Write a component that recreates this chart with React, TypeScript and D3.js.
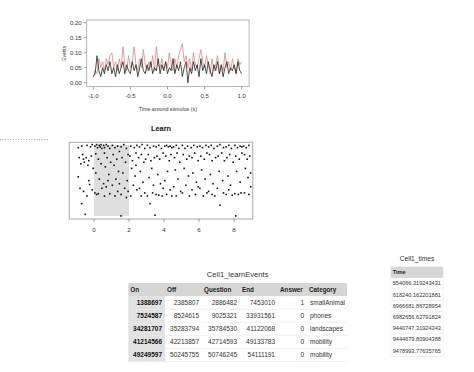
import * as d3 from "d3";

// PSTH top plot: bin centres and rates for two conditions
const binTimes = d3.range(81).map((i) => -1 + i * 0.025);
const rateBlack = [
  0.02, 0.03, 0.09, 0.04, 0.02, 0.05, 0.03, 0.06, 0.04, 0.07, 0.03, 0.05, 0.02, 0.06, 0.03, 0.05,
  0.07, 0.03, 0.06, 0.04, 0.03, 0.07, 0.04, 0.06, 0.02, 0.05, 0.08, 0.04, 0.03, 0.06, 0.04, 0.07,
  0.03, 0.05, 0.04, 0.08, 0.03, 0.06, 0.04, 0.07, 0.03, 0.05, 0.04, 0.08, 0.03, 0.06, 0.04, 0.07,
  0.02, 0.05, 0.07, 0.0, 0.05, 0.03, 0.07, 0.04, 0.06, 0.02, 0.08, 0.04, 0.06, 0.03, 0.07, 0.04,
  0.02, 0.06, 0.04, 0.07, 0.03, 0.06, 0.02, 0.05, 0.07, 0.03, 0.05, 0.04, 0.06, 0.03, 0.07, 0.04,
  0.03,
];
const rateRed = [
  0.02, 0.04, 0.03, 0.08, 0.05, 0.07, 0.04, 0.08, 0.06, 0.09, 0.1, 0.05, 0.07, 0.04, 0.08, 0.05,
  0.12, 0.06, 0.04, 0.09, 0.05, 0.07, 0.12, 0.06, 0.04, 0.08, 0.05, 0.11, 0.06, 0.04, 0.07, 0.05,
  0.09, 0.04, 0.12, 0.06, 0.05, 0.08, 0.04, 0.07, 0.05, 0.1, 0.06, 0.04, 0.08, 0.05, 0.09, 0.11,
  0.13, 0.07, 0.09, 0.05, 0.08, 0.04, 0.1, 0.06, 0.05, 0.08, 0.11, 0.07, 0.05, 0.09, 0.06, 0.03,
  0.08, 0.04, 0.06, 0.09, 0.03, 0.06, 0.04, 0.1, 0.05, 0.07, 0.04, 0.08, 0.05, 0.03, 0.08, 0.06,
  0.07,
];
const topXTicks = [-1, -0.5, 0, 0.5, 1];
const topYTicks = [0, 0.05, 0.1, 0.15, 0.2];

// raster: [time (s), trial position 0..1]
const spikes: [number, number][] = [
  [-0.9, 0.93], [-0.7, 0.95], [-0.85, 0.8], [-0.6, 0.78], [-0.75, 0.72], [-0.55, 0.74], [-0.9, 0.55],
  [-0.8, 0.4], [-0.6, 0.36], [-0.7, 0.2], [-0.5, 0.06], [-0.65, 0.84],
  [-0.4, 0.96], [-0.2, 0.94], [-0.1, 0.97], [-0.45, 0.8], [-0.3, 0.76], [-0.15, 0.82], [-0.35, 0.7],
  [-0.05, 0.66], [-0.25, 0.45], [-0.1, 0.38], [-0.4, 0.3], [-0.3, 0.5],
  [0.05, 0.95], [0.15, 0.97], [0.2, 0.93], [0.3, 0.96], [0.35, 0.94], [0.4, 0.97], [0.45, 0.92],
  [0.1, 0.85], [0.25, 0.78], [0.4, 0.72], [0.1, 0.6], [0.3, 0.52], [0.05, 0.34], [0.15, 0.32],
  [0.25, 0.33], [0.45, 0.4],
  [0.55, 0.96], [0.6, 0.93], [0.7, 0.97], [0.8, 0.95], [0.9, 0.92], [0.6, 0.86], [0.75, 0.8],
  [0.95, 0.74], [0.65, 0.68], [0.85, 0.58], [0.55, 0.46], [0.7, 0.42], [0.9, 0.33], [0.6, 0.3], [0.8, 0.5],
  [1.05, 0.96], [1.2, 0.93], [1.35, 0.95], [1.1, 0.84], [1.3, 0.78], [1.45, 0.88], [1.15, 0.7],
  [1.4, 0.62], [1.25, 0.52], [1.05, 0.44], [1.35, 0.36], [1.2, 0.3], [1.45, 0.46],
  [1.55, 0.94], [1.7, 0.97], [1.85, 0.92], [1.6, 0.8], [1.8, 0.74], [1.95, 0.84], [1.65, 0.6],
  [1.9, 0.5], [1.75, 0.4], [1.55, 0.32], [1.85, 0.28], [1.54, 0.04], [1.95, 0.36],
  [2.1, 0.95], [2.3, 0.93], [2.45, 0.96], [2.05, 0.82], [2.2, 0.76], [2.4, 0.86], [2.15, 0.66],
  [2.35, 0.56], [2.25, 0.44], [2.45, 0.38], [2.1, 0.3], [2.4, 0.7],
  [2.6, 0.94], [2.75, 0.97], [2.9, 0.92], [2.55, 0.8], [2.7, 0.84], [2.85, 0.74], [2.95, 0.78],
  [2.65, 0.62], [2.8, 0.48], [2.6, 0.4], [2.9, 0.34], [2.7, 0.3],
  [3.05, 0.96], [3.2, 0.93], [3.4, 0.95], [3.1, 0.84], [3.25, 0.76], [3.45, 0.8], [3.3, 0.66],
  [3.15, 0.54], [3.4, 0.44], [3.2, 0.2], [3.49, 0.05], [3.35, 0.34], [3.05, 0.3],
  [3.55, 0.94], [3.7, 0.96], [3.85, 0.92], [3.6, 0.82], [3.75, 0.78], [3.95, 0.86], [3.65, 0.58],
  [3.8, 0.46], [3.55, 0.32], [3.7, 0.31], [3.9, 0.3], [3.95, 0.4],
  [4.05, 0.95], [4.15, 0.96], [4.25, 0.94], [4.35, 0.95], [4.45, 0.93], [4.1, 0.82], [4.3, 0.76],
  [4.4, 0.84], [4.2, 0.62], [4.05, 0.5], [4.35, 0.38], [4.15, 0.32], [4.45, 0.3],
  [4.55, 0.94], [4.7, 0.96], [4.85, 0.92], [4.6, 0.8], [4.75, 0.86], [4.9, 0.74], [4.65, 0.64],
  [4.8, 0.52], [4.55, 0.42], [4.95, 0.36], [4.7, 0.3],
  [5.05, 0.96], [5.2, 0.92], [5.35, 0.95], [5.1, 0.84], [5.3, 0.78], [5.45, 0.82], [5.15, 0.66],
  [5.4, 0.56], [5.25, 0.44], [5.05, 0.34], [5.45, 0.3],
  [5.55, 0.93], [5.7, 0.96], [5.9, 0.94], [5.6, 0.8], [5.75, 0.86], [5.95, 0.76], [5.65, 0.6],
  [5.85, 0.48], [5.6, 0.38], [5.8, 0.32], [5.95, 0.42],
  [6.05, 0.95], [6.2, 0.93], [6.4, 0.96], [6.1, 0.82], [6.3, 0.78], [6.45, 0.86], [6.15, 0.64],
  [6.35, 0.52], [6.05, 0.4], [6.25, 0.3], [6.45, 0.34],
  [6.55, 0.94], [6.7, 0.96], [6.85, 0.92], [6.6, 0.84], [6.75, 0.76], [6.95, 0.8], [6.65, 0.58],
  [6.8, 0.46], [6.55, 0.36], [6.9, 0.3], [6.75, 0.32],
  [7.05, 0.95], [7.2, 0.97], [7.4, 0.93], [7.1, 0.82], [7.3, 0.86], [7.45, 0.76], [7.15, 0.62],
  [7.35, 0.5], [7.05, 0.4], [7.2, 0.18], [7.4, 0.34],
  [7.55, 0.94], [7.7, 0.96], [7.85, 0.92], [7.6, 0.8], [7.75, 0.84], [7.95, 0.74], [7.65, 0.56],
  [7.8, 0.44], [7.55, 0.32], [7.9, 0.31], [7.7, 0.38],
  [8.05, 0.96], [8.2, 0.93], [8.35, 0.95], [8.45, 0.94], [8.1, 0.82], [8.3, 0.78], [8.45, 0.86],
  [8.15, 0.62], [8.35, 0.48], [8.05, 0.33], [8.25, 0.32], [8.4, 0.34], [8.1, 0.04],
  [8.55, 0.95], [8.7, 0.93], [8.85, 0.96], [8.6, 0.84], [8.75, 0.78], [8.9, 0.82], [8.65, 0.66],
  [8.8, 0.54], [8.95, 0.42], [8.6, 0.34], [8.85, 0.32], [8.95, 0.6],
];
const rasterTicks = [0, 2, 4, 6, 8];
const stimWindow = [0, 2];

// tables
const eventColumns = ["On", "Off", "Question", "End", "Answer", "Category"];
const eventOn = ["1388697", "7524587", "34281707", "41214566", "49249597"];
const eventOff = ["2385807", "8524615", "35283794", "42213857", "50245755"];
const eventQuestion = ["2886482", "9025321", "35784530", "42714593", "50746245"];
const eventEnd = ["7453010", "33931561", "41122068", "49133783", "54111191"];
const eventAnswer = ["1", "0", "0", "0", "0"];
const eventCategory = ["smallAnimal", "phones", "landscapes", "mobility", "mobility"];
const cellTimes = [
  "554066.319243431",
  "618240.162201881",
  "6966681.86728954",
  "6982656.62791824",
  "9440747.31924343",
  "9444679.80904388",
  "9478993.77635765",
];

const FONT = "Liberation Sans, Arial, sans-serif";

function PsthPlot() {
  const x = d3.scaleLinear().domain([-1, 1]).range([93.3, 241.7]);
  const y = d3.scaleLinear().domain([0, 0.2]).range([82.7, 22.7]);
  const line = d3
    .line<number>()
    .x((_, i) => x(binTimes[i]))
    .y((d) => y(d));
  const left = x(-1.09);
  const right = x(1.1);
  const top = y(0.209);
  const bottom = y(-0.013);
  return (
    <g fontFamily={FONT} fontSize={6} fill="#333">
      <rect x={left} y={top} width={right - left} height={bottom - top} fill="none" stroke="#b5b5b5" strokeWidth={1} />
      <path d={line(rateRed) ?? ""} fill="none" stroke="#e08585" strokeWidth={0.8} />
      <path d={line(rateBlack) ?? ""} fill="none" stroke="#222" strokeWidth={0.8} />
      {topXTicks.map((t) => (
        <g key={t}>
          <line x1={x(t)} x2={x(t)} y1={bottom} y2={bottom + 3} stroke="#666" strokeWidth={0.6} />
          <text x={x(t)} y={bottom + 11} textAnchor="middle">
            {t.toFixed(1)}
          </text>
        </g>
      ))}
      {topYTicks.map((t) => (
        <g key={t}>
          <line x1={left} x2={left - 3} y1={y(t)} y2={y(t)} stroke="#666" strokeWidth={0.6} />
          <text x={left - 5} y={y(t)} dy="0.35em" textAnchor="end">
            {t.toFixed(2)}
          </text>
        </g>
      ))}
      <text x={(left + right) / 2} y={110.5} textAnchor="middle" fontSize={5.3}>
        Time around stimulus (s)
      </text>
      <text transform={`translate(66,${(top + bottom) / 2}) rotate(-90)`} textAnchor="middle" fontSize={4.8}>
        Events
      </text>
    </g>
  );
}

function RasterPlot() {
  const x = d3.scaleLinear().domain([0, 8]).range([94, 234]);
  const y = d3.scaleLinear().domain([0, 1]).range([219, 142.3]);
  const left = x(-1.41);
  const right = x(9.07);
  const top = y(1);
  const bottom = y(0);
  return (
    <g fontFamily={FONT} fontSize={6.2} fill="#333">
      <text x={(left + right) / 2} y={130.5} textAnchor="middle" fontWeight="bold" fontSize={7.4} fill="#111">
        Learn
      </text>
      <rect
        x={x(stimWindow[0])}
        y={y(0.965)}
        width={x(stimWindow[1]) - x(stimWindow[0])}
        height={y(0.04) - y(0.965)}
        fill="#dedede"
      />
      {spikes.map(([t, v], i) => (
        <rect key={i} x={x(t) - 0.8} y={y(v) - 0.8} width={1.6} height={1.6} fill="#111" />
      ))}
      <rect x={left} y={top} width={right - left} height={bottom - top} fill="none" stroke="#b5b5b5" strokeWidth={1.2} />
      {rasterTicks.map((t) => (
        <g key={t}>
          <line x1={x(t)} x2={x(t)} y1={bottom} y2={bottom + 3} stroke="#666" strokeWidth={0.6} />
          <text x={x(t)} y={bottom + 13} textAnchor="middle">
            {t}
          </text>
        </g>
      ))}
    </g>
  );
}

function EventsTable() {
  const colEdges = [128.3, 165, 202, 240, 278, 307, 347];
  const rowH = 13.1;
  const headTop = 283;
  const rows = eventOn.map((_, i) => [
    eventOn[i],
    eventOff[i],
    eventQuestion[i],
    eventEnd[i],
    eventAnswer[i],
    eventCategory[i],
  ]);
  const yRow = d3.scaleLinear().domain([0, 1]).range([headTop, headTop + rowH]);
  return (
    <g fontFamily={FONT} fontSize={6.5} fill="#222">
      <text x={(colEdges[0] + colEdges[6]) / 2} y={277} textAnchor="middle" fontSize={7.6} fill="#333">
        Cell1_learnEvents
      </text>
      <rect x={colEdges[0]} y={yRow(0)} width={colEdges[6] - colEdges[0]} height={rowH} fill="#d6d6d6" />
      <rect x={colEdges[0]} y={yRow(1)} width={colEdges[1] - colEdges[0]} height={rowH * rows.length} fill="#e2e2e2" />
      {eventColumns.map((c, j) => (
        <text key={c} x={colEdges[j] + 2} y={yRow(0.5)} dy="0.35em" fontWeight="bold" fontSize={6.3}>
          {c}
        </text>
      ))}
      {rows.map((r, i) => (
        <g key={i}>
          <line x1={colEdges[0]} x2={colEdges[6]} y1={yRow(i + 2)} y2={yRow(i + 2)} stroke="#e6e6e6" strokeWidth={0.6} />
          {r.map((v, j) => (
            <text
              key={j}
              x={j === 5 ? colEdges[j] + 3 : colEdges[j + 1] - 3}
              y={yRow(i + 1.5)}
              dy="0.35em"
              textAnchor={j === 5 ? "start" : "end"}
              fontWeight={j === 0 ? "bold" : "normal"}
              fill={j === 0 ? "#111" : "#333"}
            >
              {v}
            </text>
          ))}
        </g>
      ))}
    </g>
  );
}

function TimesTable() {
  const left = 390.7;
  const right = 443.3;
  const yRow = d3.scaleLinear().domain([0, 1]).range([266.7, 277.9]);
  return (
    <g fontFamily={FONT} fontSize={5.6} fill="#333">
      <text x={(left + right) / 2} y={261} textAnchor="middle" fontSize={6.6}>
        Cell1_times
      </text>
      <rect x={left} y={yRow(0)} width={right - left} height={yRow(1) - yRow(0)} fill="#d6d6d6" />
      <text x={left + 2} y={yRow(0.5)} dy="0.35em" fontWeight="bold" fill="#222">
        Time
      </text>
      <line x1={left} x2={left} y1={yRow(1)} y2={yRow(cellTimes.length + 1)} stroke="#eee" strokeWidth={0.6} />
      <line x1={right} x2={right} y1={yRow(1)} y2={yRow(cellTimes.length + 1)} stroke="#eee" strokeWidth={0.6} />
      {cellTimes.map((v, i) => (
        <g key={v}>
          <line x1={left} x2={right} y1={yRow(i + 2)} y2={yRow(i + 2)} stroke="#e6e6e6" strokeWidth={0.6} />
          <text x={left + 2} y={yRow(i + 1.5)} dy="0.35em">
            {v}
          </text>
        </g>
      ))}
    </g>
  );
}

export default function App() {
  return (
    <svg
      width={474}
      height={372}
      viewBox="0 0 474 372"
      style={{ position: "fixed", left: 0, top: 0, background: "#fff" }}
    >
      <rect width={474} height={372} fill="#fff" />
      <line x1={0} x2={48} y1={139.5} y2={139.5} stroke="#888" strokeWidth={0.8} strokeDasharray="1 1.6" />
      <PsthPlot />
      <RasterPlot />
      <EventsTable />
      <TimesTable />
    </svg>
  );
}
